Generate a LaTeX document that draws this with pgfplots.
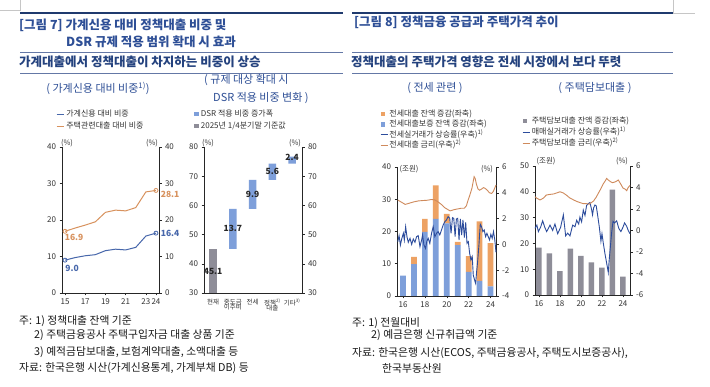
\documentclass[border=0pt]{standalone}
\usepackage{fontspec}
\setmainfont{Noto Sans CJK KR}
\usepackage{pgfplots}
\pgfplotsset{compat=1.18}
\definecolor{tblue}{HTML}{2E4F96}
\definecolor{navy}{HTML}{1F3A6E}
\definecolor{rule}{HTML}{6478A6}
\definecolor{sub}{HTML}{24427E}
\definecolor{lblue}{HTML}{4767AB}
\definecolor{lorange}{HTML}{D8925E}
\definecolor{barblue}{HTML}{7E9FDA}
\definecolor{bargray}{HTML}{8E8D98}
\definecolor{barorange}{HTML}{EDA264}
\definecolor{dblue}{HTML}{2C4C9C}
\definecolor{rorange}{HTML}{CF8A5C}
\definecolor{txt}{HTML}{333333}
\pgfplotsset{
  base/.style={scale only axis, axis line style={black!85, line width=0.6pt},
    tick style={black!85, line width=0.5pt}, tick align=outside, major tick length=2.5pt,
    ticklabel style={font=\fontsize{8}{9}\selectfont, text=txt},
    /pgf/number format/assume math mode=true},
  sqleg/.style={legend image code/.code={\fill[##1] (0pt,-2.2pt) rectangle (4.5pt,2.2pt);}},
  lnleg/.style={legend image code/.code={\draw[##1] (0pt,0pt) -- (7pt,0pt);}},
  myleg/.style={legend cell align=left, legend style={draw=none, fill=none, font=\fontsize{8}{9}\selectfont,
    text=txt, anchor=north west, row sep=0pt, inner sep=0pt,
    nodes={inner sep=#1, text height=6pt, text depth=1.5pt}}},
}
\begin{document}
\begin{tikzpicture}[x=1pt,y=1pt]
\fill[white] (0,0) rectangle (710,387);
\path[use as bounding box] (0,0) rectangle (710,387);
% crop marks
\draw[gray!45, line width=0.4pt] (20,387) -- (20,377) -- (0,377);
\draw[gray!45, line width=0.4pt] (673,387) -- (673,374) -- (695,374);
% rules
\draw[navy, line width=1.2pt] (20,374) -- (343,374);
\draw[rule, line width=0.7pt] (20,335) -- (343,335);
\draw[rule, line width=0.7pt] (20,314) -- (343,314);
\draw[navy, line width=1.2pt] (352,374) -- (673,374);
\draw[rule, line width=0.7pt] (352,335) -- (673,335);
\draw[rule, line width=0.7pt] (352,314) -- (673,314);
% titles
\node[anchor=west, text=tblue, font=\bfseries\fontsize{12.5}{13}\selectfont, inner sep=0pt] at (19,362) {[그림 7] 가계신용 대비 정책대출 비중 및};
\node[anchor=west, text=tblue, font=\bfseries\fontsize{12.5}{13}\selectfont, inner sep=0pt] at (66,345) {DSR 규제 적용 범위 확대 시 효과};
\node[anchor=west, text=sub, font=\bfseries\fontsize{12.5}{13}\selectfont, inner sep=0pt] at (19,325) {가계대출에서 정책대출이 차지하는 비중이 상승};
\node[anchor=west, text=tblue, font=\bfseries\fontsize{12.5}{13}\selectfont, inner sep=0pt] at (354,365) {[그림 8] 정책금융 공급과 주택가격 추이};
\node[anchor=west, text=sub, font=\bfseries\fontsize{12.5}{13}\selectfont, inner sep=0pt] at (351,325) {정책대출의 주택가격 영향은 전세 시장에서 보다 뚜렷};
% panel subtitles
\node[text=tblue, font=\fontsize{11}{12}\selectfont, inner sep=0pt] at (98,299) {( 가계신용 대비 비중\textsuperscript{1)})};
\node[anchor=west, text=tblue, font=\fontsize{11}{12}\selectfont, inner sep=0pt] at (204,307) {( 규제 대상 확대 시};
\node[anchor=west, text=tblue, font=\fontsize{11}{12}\selectfont, inner sep=0pt] at (213,289) {DSR 적용 비중 변화 )};
\node[text=tblue, font=\fontsize{11}{12}\selectfont, inner sep=0pt] at (435,299) {( 전세 관련 )};
\node[text=tblue, font=\fontsize{11}{12}\selectfont, inner sep=0pt] at (595,299) {( 주택담보대출 )};
% unit labels
\node[font=\fontsize{7.5}{8}\selectfont, text=txt, inner sep=0pt] at (67,244) {(\%)};
\node[font=\fontsize{7.5}{8}\selectfont, text=txt, inner sep=0pt] at (152,244) {(\%)};
\node[font=\fontsize{7.5}{8}\selectfont, text=txt, inner sep=0pt] at (208,244) {(\%)};
\node[font=\fontsize{7.5}{8}\selectfont, text=txt, inner sep=0pt] at (295,244) {(\%)};
\node[font=\fontsize{7.5}{8}\selectfont, text=txt, inner sep=0pt] at (409,218) {(조원)};
\node[font=\fontsize{7.5}{8}\selectfont, text=txt, inner sep=0pt] at (487,218) {(\%)};
\node[font=\fontsize{7.5}{8}\selectfont, text=txt, inner sep=0pt] at (546,226) {(조원)};
\node[font=\fontsize{7.5}{8}\selectfont, text=txt, inner sep=0pt] at (622,226) {(\%)};

% ===== Chart 1 =====
\begin{axis}[base, at={(62pt,94pt)}, anchor=south west, width=97pt, height=146pt,
  xmin=14.7, xmax=24.3, ymin=0, ymax=40, axis x line*=bottom, axis y line*=left,
  xtick={15,17,19,21,23,24}, ytick={0,10,20,30,40}, clip=false,
  myleg=2.2pt, legend style={at={(-0.062,1.267)}}]
\addplot[lblue, line width=1pt, lnleg] coordinates {(15,9.0)(16,9.7)(17,10.2)(18,10.5)(19,11.6)(20,12.0)(21,11.8)(22,12.5)(23,15.6)(24,16.4)};
\addlegendentry{가계신용 대비 비중}
\addplot[lorange, line width=1pt, lnleg] coordinates {(15,16.9)(16,17.8)(17,18.6)(18,19.5)(19,22.1)(20,22.7)(21,22.5)(22,23.4)(23,27.7)(24,28.1)};
\addlegendentry{주택관련대출 대비 비중}
\addplot[only marks, mark=o, mark size=2pt, lblue, mark options={fill=white, line width=0.8pt}, forget plot] coordinates {(15,9.0)(24,16.4)};
\addplot[only marks, mark=o, mark size=2pt, lorange, mark options={fill=white, line width=0.8pt}, forget plot] coordinates {(15,16.9)(24,28.1)};
\node[text=lorange, font=\bfseries\fontsize{8.5}{9}\selectfont] at (axis cs:15.9,15.1) {16.9};
\node[text=lblue, font=\bfseries\fontsize{8.5}{9}\selectfont] at (axis cs:15.7,6.85) {9.0};
\node[text=lorange, font=\bfseries\fontsize{8.5}{9}\selectfont] at (axis cs:25.4,27.1) {28.1};
\node[text=lblue, font=\bfseries\fontsize{8.5}{9}\selectfont] at (axis cs:25.4,16.4) {16.4};
\end{axis}
\begin{axis}[base, at={(62pt,94pt)}, anchor=south west, width=97pt, height=146pt,
  xmin=14.7, xmax=24.3, ymin=0, ymax=40, axis x line=none, axis y line*=right,
  xtick=\empty, ytick={0,10,20,30,40}]
\end{axis}

% ===== Chart 2 =====
\begin{axis}[base, at={(204pt,94pt)}, anchor=south west, width=98pt, height=146pt,
  xmin=-0.46, xmax=4.5, ymin=30, ymax=80, axis x line*=bottom, axis y line*=left,
  ybar stacked, bar width=7.3pt, xtick={0,1,2,3,4},
  xticklabels={{현재},{중도금\\[-2pt]이주비},{전세},{정책\textsuperscript{2)}\\[-2pt]대출},{기타\textsuperscript{3)}}},
  xtick style={draw=none}, xticklabel style={font=\fontsize{6.5}{7}\selectfont, align=center, text=txt},
  ytick={30,40,50,60,70,80}, clip=true]
\addplot[draw=none, fill=none] coordinates {(0,0)(1,45.1)(2,58.8)(3,68.7)(4,74.3)};
\addplot[draw=none, fill=bargray] coordinates {(0,45.1)(1,0)(2,0)(3,0)(4,0)};
\addplot[draw=none, fill=barblue] coordinates {(0,0)(1,13.7)(2,9.9)(3,5.6)(4,2.4)};
\end{axis}
\begin{axis}[base, at={(204pt,94pt)}, anchor=south west, width=98pt, height=146pt,
  xmin=-0.46, xmax=4.5, ymin=30, ymax=80, axis x line=none, axis y line*=right,
  xtick=\empty, ytick={30,40,50,60,70,80}, clip=false,
  myleg=2.2pt, legend style={at={(-0.102,1.267)}}]
\addlegendimage{sqleg, fill=barblue, draw=none}
\addlegendentry{DSR 적용 비중 증가폭}
\addlegendimage{sqleg, fill=bargray, draw=none}
\addlegendentry{2025년 1/4분기말 기준값}
\node[font=\bfseries\fontsize{8.5}{9}\selectfont, text=black!85] at (axis cs:0,37.5) {45.1};
\node[font=\bfseries\fontsize{8.5}{9}\selectfont, text=black!85] at (axis cs:1,52.0) {13.7};
\node[font=\bfseries\fontsize{8.5}{9}\selectfont, text=black!85] at (axis cs:2,63.7) {9.9};
\node[font=\bfseries\fontsize{8.5}{9}\selectfont, text=black!85] at (axis cs:3,71.5) {5.6};
\node[font=\bfseries\fontsize{8.5}{9}\selectfont, text=black!85] at (axis cs:4,76.6) {2.4};
\end{axis}

% ===== Chart 3 =====
\begin{axis}[base, at={(397pt,91pt)}, anchor=south west, width=99pt, height=129pt,
  xmin=15.45, xmax=24.5, ymin=0, ymax=40, axis x line*=bottom, axis y line*=left,
  ybar stacked, bar width=5.7pt, xtick={16,18,20,22,24}, ytick={0,10,20,30,40}]
\addplot[draw=none, fill=barblue] coordinates {(16,6.3)(17,9.9)(18,19.9)(19,23.9)(20,22.5)(21,15.8)(22,7.5)(23,4.7)(24,3.0)};
\addplot[draw=none, fill=barorange] coordinates {(16,0)(17,2.2)(18,4.0)(19,10.4)(20,3.0)(21,1.0)(22,4.9)(23,18.4)(24,13.4)};
\end{axis}
\begin{axis}[base, at={(397pt,91pt)}, anchor=south west, width=99pt, height=129pt,
  xmin=15.45, xmax=24.5, ymin=-4, ymax=6, axis x line=none, axis y line*=right,
  xtick=\empty, ytick={-4,-2,0,2,4,6}, clip=false,
  myleg=1.4pt, legend style={at={(-0.172,1.451)}}]
\addlegendimage{sqleg, fill=barorange, draw=none}
\addlegendentry{전세대출 잔액 증감(좌축)}
\addlegendimage{sqleg, fill=barblue, draw=none}
\addlegendentry{전세대출보증 잔액 증감(좌축)}
\addplot[dblue, line width=0.9pt, lnleg] coordinates {(15.52,0.21)(15.64,0.68)(15.76,-0.05)(15.88,0.42)(16.03,0.86)(16.12,0.34)(16.24,1.37)(16.36,0.60)(16.48,0.16)(16.64,0.47)(16.79,0.0)(16.94,0.42)(17.09,0.16)(17.24,0.60)(17.39,0.68)(17.55,-0.18)(17.70,0.34)(17.79,0.73)(17.91,-0.05)(18.06,-0.31)(18.18,0.26)(18.30,0.47)(18.45,0.08)(18.61,0.86)(18.76,1.37)(18.91,0.60)(19.06,0.86)(19.21,0.99)(19.36,0.73)(19.52,1.12)(19.67,1.50)(19.82,1.76)(19.97,1.89)(20.12,2.15)(20.27,2.02)(20.39,0.86)(20.52,2.07)(20.64,2.02)(20.76,0.60)(20.88,1.97)(21.00,2.02)(21.12,0.34)(21.24,1.97)(21.36,0.73)(21.48,1.89)(21.61,0.52)(21.73,1.71)(21.85,0.08)(21.97,0.21)(22.09,-0.69)(22.21,-1.21)(22.33,-0.95)(22.42,-2.37)(22.54,-2.76)(22.64,-3.02)(22.73,-2.11)(22.82,-1.34)(22.94,-0.05)(23.06,1.56)(23.18,1.37)(23.30,0.99)(23.42,1.12)(23.55,0.60)(23.67,0.86)(23.79,0.60)(23.91,0.34)(24.03,0.78)(24.15,0.47)(24.27,0.99)(24.39,0.34)(24.50,-0.62)};
\addlegendentry{전세실거래가 상승률(우축)\textsuperscript{1)}}
\addplot[rorange, line width=0.9pt, lnleg] coordinates {(15.52,3.44)(15.8,3.3)(16.2,3.1)(16.6,3.2)(17.0,3.3)(17.4,3.37)(17.8,3.4)(18.2,3.42)(18.6,3.48)(18.9,3.45)(19.2,3.3)(19.5,3.1)(19.8,2.85)(20.1,2.7)(20.3,2.6)(20.5,2.65)(20.7,2.7)(21.0,2.75)(21.3,2.8)(21.6,2.8)(21.8,3.0)(21.9,3.3)(22.1,3.8)(22.3,4.35)(22.5,5.25)(22.6,5.1)(22.7,4.7)(22.85,4.3)(23.0,4.2)(23.2,4.3)(23.35,4.4)(23.5,4.35)(23.7,4.2)(23.9,4.0)(24.1,3.95)(24.25,4.1)(24.4,4.4)(24.5,4.6)};
\addlegendentry{전세대출 금리(우축)\textsuperscript{2)}}
\end{axis}

% ===== Chart 4 =====
\begin{axis}[base, at={(535pt,92pt)}, anchor=south west, width=95pt, height=129pt,
  xmin=15.62, xmax=24.67, ymin=0, ymax=50, axis x line*=bottom, axis y line*=left,
  ybar, bar width=5.5pt, xtick={16,18,20,22,24}, ytick={0,10,20,30,40,50}]
\addplot[draw=none, fill=bargray] coordinates {(16,18.4)(17,16.1)(18,9.3)(19,18.0)(20,15.2)(21,12.6)(22,10.6)(23,40.8)(24,7.1)};
\end{axis}
\begin{axis}[base, at={(535pt,92pt)}, anchor=south west, width=95pt, height=129pt,
  xmin=15.62, xmax=24.67, ymin=-6, ymax=6, axis x line=none, axis y line*=right,
  xtick=\empty, ytick={-6,-4,-2,0,2,4,6}, clip=false,
  myleg=1.75pt, legend style={at={(-0.137,1.391)}}]
\addlegendimage{sqleg, fill=bargray, draw=none}
\addlegendentry{주택담보대출 잔액 증감(좌축)}
\addplot[dblue, line width=0.9pt, lnleg] coordinates {(15.62,0.2)(15.8,0.5)(15.94,-0.1)(16.15,0.3)(16.35,0.9)(16.55,0.3)(16.73,-0.1)(16.9,0.2)(17.05,0.5)(17.3,0.0)(17.52,0.6)(17.78,-0.3)(18.06,0.3)(18.32,1.45)(18.54,-0.5)(18.73,-0.25)(18.95,-0.5)(19.21,0.5)(19.43,0.35)(19.59,0.95)(19.78,0.6)(19.9,1.25)(20.06,0.8)(20.22,1.9)(20.38,1.4)(20.54,2.35)(20.7,2.5)(20.86,2.6)(21.02,1.9)(21.1,1.45)(21.2,2.1)(21.33,2.37)(21.45,2.3)(21.56,1.6)(21.75,0.3)(21.9,-1.0)(22.0,-0.3)(22.13,-1.2)(22.29,-2.2)(22.44,-3.0)(22.6,-3.9)(22.7,-2.6)(22.8,-1.5)(22.92,-0.2)(23.05,0.85)(23.2,0.7)(23.4,0.9)(23.6,0.2)(23.8,-0.1)(24.0,0.3)(24.15,0.7)(24.35,0.4)(24.5,0.0)(24.67,-0.3)};
\addlegendentry{매매실거래가 상승률(우축)\textsuperscript{1)}}
\addplot[rorange, line width=0.9pt, lnleg] coordinates {(15.62,3.14)(15.8,3.0)(16.1,2.84)(16.4,3.0)(16.7,3.3)(17.0,3.35)(17.4,3.4)(17.7,3.5)(18.0,3.6)(18.3,3.5)(18.6,3.3)(18.9,3.05)(19.3,2.84)(19.6,2.7)(19.9,2.6)(20.2,2.5)(20.5,2.5)(20.8,2.45)(21.0,2.6)(21.2,2.75)(21.45,3.1)(21.65,3.46)(21.9,3.9)(22.1,4.3)(22.3,4.6)(22.45,4.85)(22.6,4.7)(22.8,4.55)(23.0,4.45)(23.2,4.5)(23.4,4.6)(23.55,4.7)(23.8,4.3)(24.0,3.95)(24.2,3.85)(24.35,3.7)(24.5,4.0)(24.67,4.2)};
\addlegendentry{주택담보대출 금리(우축)\textsuperscript{2)}}
\end{axis}

% footnotes
\node[anchor=west, font=\fontsize{10.8}{12}\selectfont, text=black!90, inner sep=0pt] at (19,66) {주: 1) 정책대출 잔액 기준};
\node[anchor=west, font=\fontsize{10.8}{12}\selectfont, text=black!90, inner sep=0pt] at (34,52) {2) 주택금융공사 주택구입자금 대출 상품 기준};
\node[anchor=west, font=\fontsize{10.8}{12}\selectfont, text=black!90, inner sep=0pt] at (34,35) {3) 예적금담보대출, 보험계약대출, 소액대출 등};
\node[anchor=west, font=\fontsize{10.8}{12}\selectfont, text=black!90, inner sep=0pt] at (19,19) {자료: 한국은행 시산(가계신용통계, 가계부채 DB) 등};
\node[anchor=west, font=\fontsize{10.8}{12}\selectfont, text=black!90, inner sep=0pt] at (352,64) {주: 1) 전월대비};
\node[anchor=west, font=\fontsize{10.8}{12}\selectfont, text=black!90, inner sep=0pt] at (371,52) {2) 예금은행 신규취급액 기준};
\node[anchor=west, font=\fontsize{10.8}{12}\selectfont, text=black!90, inner sep=0pt] at (352,34) {자료: 한국은행 시산(ECOS, 주택금융공사, 주택도시보증공사),};
\node[anchor=west, font=\fontsize{10.8}{12}\selectfont, text=black!90, inner sep=0pt] at (382,19) {한국부동산원};
\end{tikzpicture}
\end{document}
